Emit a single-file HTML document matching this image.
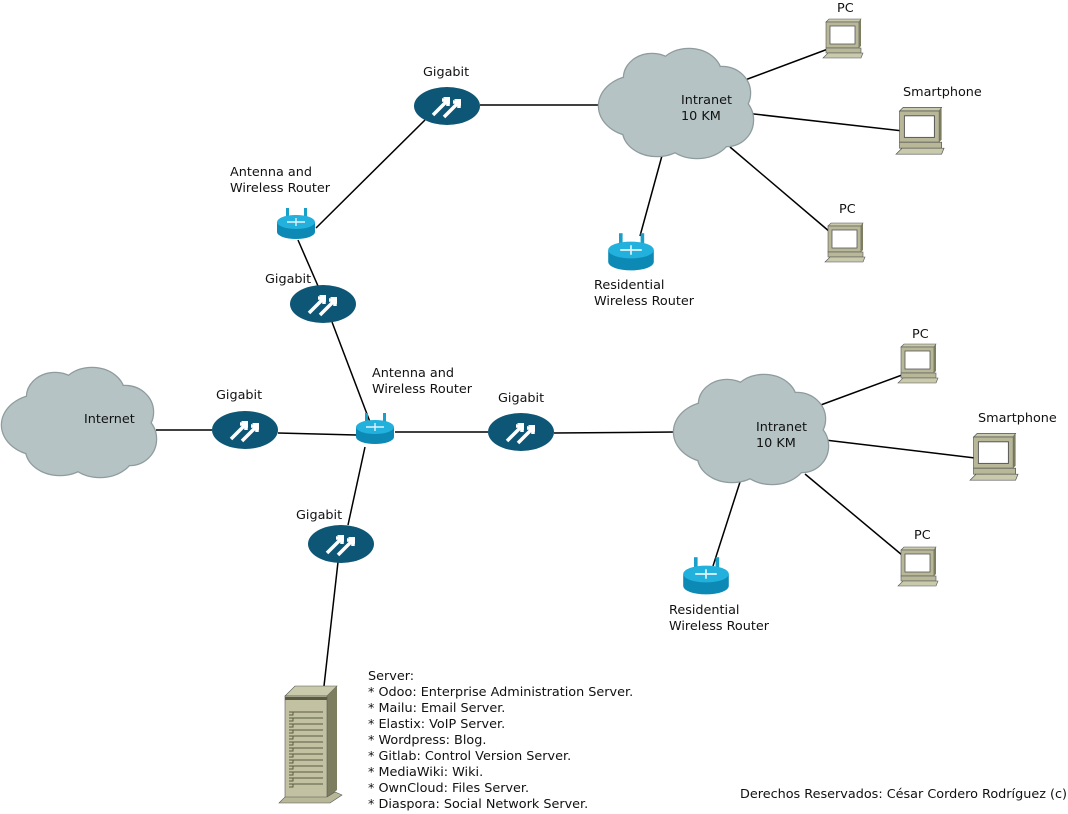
<!DOCTYPE html>
<html><head><meta charset="utf-8"><style>
html,body{margin:0;padding:0;background:#fff}
svg{display:block}
text{font-family:"DejaVu Sans","Liberation Sans",sans-serif;font-size:12.8px;fill:#111}
</style></head><body>
<svg width="1068" height="814" viewBox="0 0 1068 814" xmlns="http://www.w3.org/2000/svg">
<defs>
<g id="cloudshape">
<ellipse cx="40" cy="58" rx="38" ry="30"/>
<ellipse cx="55" cy="30" rx="28" ry="24"/>
<ellipse cx="92" cy="26" rx="32" ry="25"/>
<ellipse cx="125" cy="45" rx="28" ry="26"/>
<ellipse cx="130" cy="72" rx="26" ry="26"/>
<ellipse cx="100" cy="85" rx="34" ry="25"/>
<ellipse cx="60" cy="82" rx="34" ry="26"/>
<ellipse cx="80" cy="56" rx="50" ry="40"/>
</g>
<g id="cloud">
<use href="#cloudshape" fill="#8e9c9e" stroke="#8e9c9e" stroke-width="2.5"/>
<use href="#cloudshape" fill="#b5c3c5"/>
</g>
<g id="gig">
<ellipse cx="0" cy="0" rx="33" ry="19" fill="#0e5675"/>
<path d="M-14 9 L0 -5 M-5 -6 L1 -6 L1 0" stroke="#fff" stroke-width="3.5" fill="none"/>
<path d="M-3 11 L11 -3 M6 -4 L12 -4 L12 2" stroke="#fff" stroke-width="3.5" fill="none"/>
<path d="M-4 -9 L3 -9 L3 -2 Z M7 -7 L14 -7 L14 0 Z" fill="#fff"/>
</g>
<g id="wr">
<rect x="-10" y="-19" width="3" height="10" fill="#1aa0c8"/>
<rect x="8" y="-19" width="3" height="10" fill="#1aa0c8"/>
<path d="M-19 -5 L-19 5 A19 7 0 0 0 19 5 L19 -5 Z" fill="#0c8ab5"/>
<ellipse cx="0" cy="-5" rx="19" ry="7" fill="#22b0dc"/>
<path d="M-9 -5 L9 -5 M0 -9 L0 -1" stroke="#e0f4fb" stroke-width="1.4"/>
</g>
<g id="pc">
<path d="M3 0 L36 0 L38 -3 L6 -3 Z" fill="#c9c9ac" stroke="#555" stroke-width="0.6"/>
<rect x="3" y="0" width="33" height="26" fill="#b8b899" stroke="#555" stroke-width="0.6"/>
<path d="M36 0 L38 -3 L38 24 L36 26 Z" fill="#7d7d60"/>
<rect x="7" y="4" width="25" height="18" fill="#fff" stroke="#555" stroke-width="0.8"/>
<rect x="3" y="26" width="35" height="5" fill="#b8b899" stroke="#555" stroke-width="0.6"/>
<path d="M0 36 L5 31 L40 31 L38 36 Z" fill="#c9c9ac" stroke="#555" stroke-width="0.6"/>
</g>
</defs>

<g stroke="#000" stroke-width="1.5" fill="none">
<line x1="480" y1="105" x2="600" y2="105"/>
<line x1="316" y1="228" x2="425" y2="120"/>
<line x1="298" y1="240" x2="318" y2="286"/>
<line x1="332" y1="322" x2="370" y2="422"/>
<line x1="156" y1="430" x2="212" y2="430"/>
<line x1="278" y1="433" x2="356" y2="435"/>
<line x1="395" y1="432" x2="488" y2="432"/>
<line x1="554" y1="433" x2="675" y2="432"/>
<line x1="365" y1="447" x2="348" y2="525"/>
<line x1="338" y1="562" x2="324" y2="686"/>
<line x1="663" y1="152" x2="640" y2="236"/>
<line x1="745" y1="80" x2="828" y2="49"/>
<line x1="745" y1="113" x2="903" y2="131"/>
<line x1="730" y1="147" x2="830" y2="232"/>
<line x1="818" y1="406" x2="902" y2="375"/>
<line x1="825" y1="440" x2="975" y2="458"/>
<line x1="805" y1="474" x2="902" y2="555"/>
<line x1="740" y1="482" x2="713" y2="566"/>
</g>

<use href="#cloud" x="0" y="367"/>
<use href="#cloud" x="597" y="48"/>
<use href="#cloud" x="672" y="374"/>

<use href="#gig" x="447" y="106"/>
<use href="#gig" x="323" y="304"/>
<use href="#gig" x="245" y="430"/>
<use href="#gig" x="521" y="432"/>
<use href="#gig" x="341" y="544"/>

<use href="#wr" x="296" y="227"/>
<use href="#wr" x="375" y="432"/>
<g transform="translate(631,256) scale(1.2)"><use href="#wr"/></g>
<g transform="translate(706,580) scale(1.2)"><use href="#wr"/></g>

<use href="#pc" x="823" y="22"/>
<g transform="translate(896,111) scale(1.2)"><use href="#pc"/></g>
<use href="#pc" x="825" y="226"/>
<use href="#pc" x="898" y="347"/>
<g transform="translate(970,437) scale(1.2)"><use href="#pc"/></g>
<use href="#pc" x="898" y="550"/>

<g>
<path d="M285 696 L295 686 L337 686 L327 696 Z" fill="#c9c9ac" stroke="#555" stroke-width="0.6"/>
<path d="M327 696 L337 686 L337 790 L327 798 Z" fill="#7d7d60"/>
<rect x="285" y="696" width="42" height="102" fill="#c2c2a3" stroke="#555" stroke-width="0.6"/>
<rect x="285" y="697" width="42" height="3" fill="#5a5a40"/>
<g stroke="#5a5a40" stroke-width="1" fill="none">
<path d="M289 712 h4 v3 h-4 M293 712 h30"/><path d="M289 718 h4 v3 h-4 M293 718 h30"/>
<path d="M289 724 h4 v3 h-4 M293 724 h30"/><path d="M289 730 h4 v3 h-4 M293 730 h30"/>
<path d="M289 736 h4 v3 h-4 M293 736 h30"/><path d="M289 742 h4 v3 h-4 M293 742 h30"/>
<path d="M289 748 h4 v3 h-4 M293 748 h30"/><path d="M289 754 h4 v3 h-4 M293 754 h30"/>
<path d="M289 760 h4 v3 h-4 M293 760 h30"/><path d="M289 766 h4 v3 h-4 M293 766 h30"/>
<path d="M289 772 h4 v3 h-4 M293 772 h30"/><path d="M289 778 h4 v3 h-4 M293 778 h30"/>
<path d="M289 784 h4 v3 h-4 M293 784 h30"/>
</g>
<path d="M279 803 L285 797 L327 797 L335 792 L342 795 L330 803 Z" fill="#b8b899" stroke="#555" stroke-width="0.6"/>
</g>

<text x="84" y="423">Internet</text>
<text x="681" y="104">Intranet</text><text x="681" y="120">10 KM</text>
<text x="756" y="431">Intranet</text><text x="756" y="447">10 KM</text>
<text x="423" y="76">Gigabit</text>
<text x="265" y="283">Gigabit</text>
<text x="216" y="399">Gigabit</text>
<text x="498" y="402">Gigabit</text>
<text x="296" y="519">Gigabit</text>
<text x="230" y="176">Antenna and</text><text x="230" y="192">Wireless Router</text>
<text x="372" y="377">Antenna and</text><text x="372" y="393">Wireless Router</text>
<text x="594" y="289">Residential</text><text x="594" y="305">Wireless Router</text>
<text x="669" y="614">Residential</text><text x="669" y="630">Wireless Router</text>
<text x="837" y="12">PC</text>
<text x="903" y="96">Smartphone</text>
<text x="839" y="213">PC</text>
<text x="912" y="338">PC</text>
<text x="978" y="422">Smartphone</text>
<text x="914" y="539">PC</text>
<text x="368" y="680">Server:</text>
<text x="368" y="696">* Odoo: Enterprise Administration Server.</text>
<text x="368" y="712">* Mailu: Email Server.</text>
<text x="368" y="728">* Elastix: VoIP Server.</text>
<text x="368" y="744">* Wordpress: Blog.</text>
<text x="368" y="760">* Gitlab: Control Version Server.</text>
<text x="368" y="776">* MediaWiki: Wiki.</text>
<text x="368" y="792">* OwnCloud: Files Server.</text>
<text x="368" y="808">* Diaspora: Social Network Server.</text>
<text x="740" y="798">Derechos Reservados: César Cordero Rodríguez (c)</text>
</svg>
</body></html>
